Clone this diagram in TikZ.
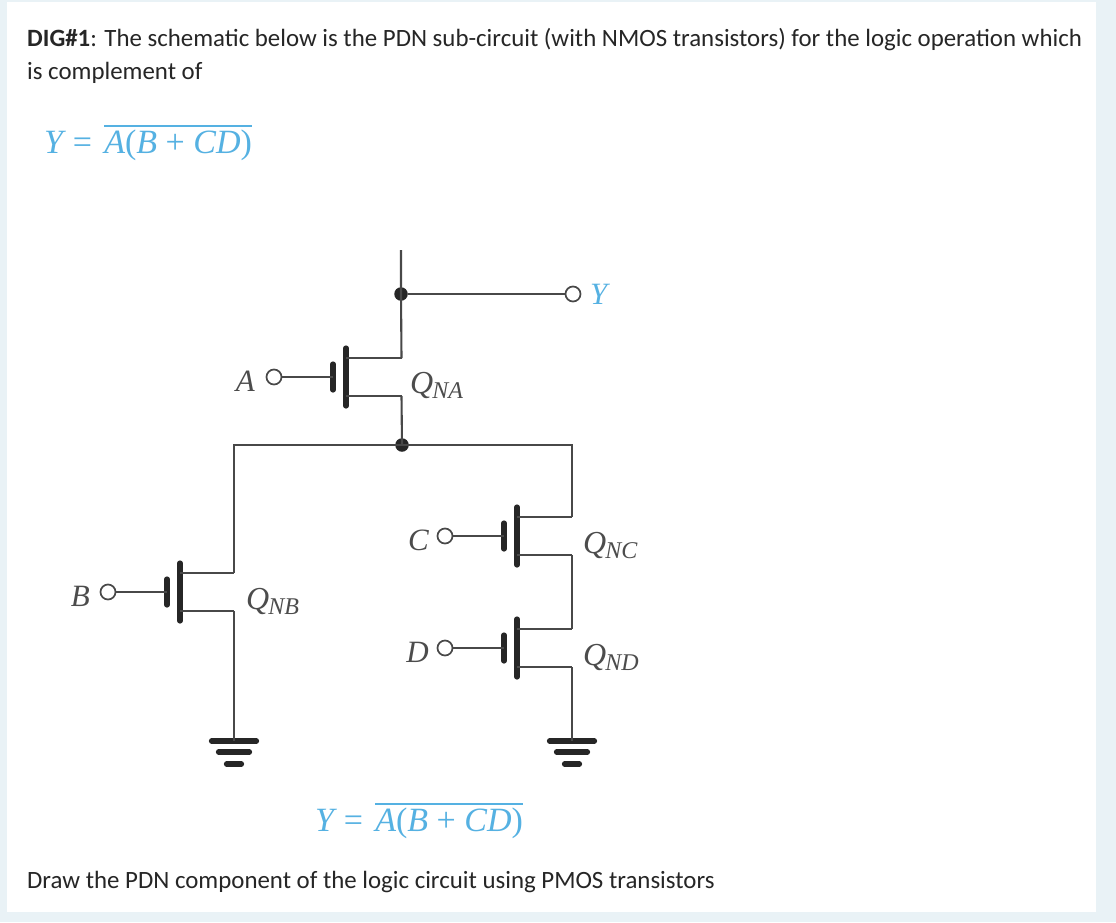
\documentclass[tikz,border=0pt]{standalone}
\usepackage{fontspec}
\setmainfont{Carlito}
\newfontfamily\tms{Liberation Serif}
\definecolor{pagebg}{HTML}{E9F2F6}
\definecolor{ink}{HTML}{262626}
\definecolor{wire}{HTML}{484848}
\definecolor{skyb}{HTML}{55B1E2}
\newcommand\ovl[1]{\vbox{\hrule height 1.5pt \kern 2.6pt \hbox{#1}}}
\newcommand\eqn{\fontsize{34}{36}\selectfont\tms\itshape Y\/\kern.2em\upshape=\kern.36em\itshape\ovl{A\upshape(\itshape B\upshape\ +\ \itshape CD\upshape)}}
\newcommand\qlab[2]{\fontsize{32}{34}\selectfont\tms\itshape Q\kern-1pt\raisebox{-5pt}{\fontsize{24}{25}\selectfont #2}}
\tikzset{
  x=1pt,y=-1pt,
  conn/.style={draw=wire,line width=2.1pt},
  gatebar/.style={draw=black!85,line width=5.2pt,line cap=round},
  gndbar/.style={draw=black!85,line width=5.2pt,line cap=round},
  term/.style={circle,draw=wire,fill=white,line width=1.7pt,minimum size=15pt,inner sep=0pt},
  junct/.style={circle,fill=black!85,minimum size=13.5pt,inner sep=0pt},
  ltr/.style={font=\fontsize{31}{34}\selectfont\tms\itshape,text=black!70,inner sep=0pt},
  qname/.style={text=black!70,inner sep=0pt,anchor=base west},
  body/.style={font=\fontsize{24.87}{28}\selectfont,inner sep=0pt,anchor=base west,text=ink},
  eqnstyle/.style={inner sep=0pt,anchor=base west,text=skyb}
}
% #1 name, #2 channel x, #3 gate y, #4 wire x, #5 terminal x
\newcommand\fet[5]{%
  \coordinate (#1c) at (#2,#3);
  \node[term] (#1t) at (#5,#3) {};
  \draw[gatebar] (#2-13,#3-13) -- (#2-13,#3+13);
  \draw[gatebar] (#2,#3-29) -- (#2,#3+29);
  \draw[conn] (#1t) -- (#2-13,#3);
  \coordinate (#1d) at (#4,#3-19);
  \coordinate (#1s) at (#4,#3+19);
  \draw[conn] (#2,#3-19) -- (#1d);
  \draw[conn] (#2,#3+19) -- (#1s);
}
\newcommand\gnd[3]{%
  \coordinate (#1) at (#2,#3);
  \draw[gndbar] (#2-22.5,#3) -- (#2+22.5,#3);
  \draw[gndbar] (#2-15.5,#3+11) -- (#2+15.5,#3+11);
  \draw[gndbar] (#2-7.5,#3+23) -- (#2+7.5,#3+23);
}
\begin{document}
\begin{tikzpicture}
\useasboundingbox (0,0) rectangle (1116,922);
\fill[pagebg] (0,0) rectangle (1116,922);
\fill[white] (7,2) rectangle (1096,912);
\node[body] (t1) at (27,46) {\textbf{DIG\#1}: The schematic below is the PDN sub-circuit (with NMOS transistors) for the logic operation which};
\node[body] (t2) at (27,79) {is complement of};
\node[body] (t3) at (27,888) {Draw the PDN component of the logic circuit using PMOS transistors};
\node[eqnstyle] (e1) at (44,153) {\eqn};
\node[eqnstyle] (e2) at (315,831) {\eqn};

\fet{a}{346}{377}{401.5}{274}
\fet{b}{180}{592}{234}{108}
\fet{c}{517}{536}{572}{445}
\fet{d}{517}{648}{572}{445}
\coordinate (top) at (401,250);
\node[junct] (j1) at (401,294) {};
\node[junct] (j2) at (402,445) {};
\node[term] (yt) at (573,294) {};
\coordinate (cl) at (234,445);
\coordinate (cr) at (572,445);
\gnd{g1}{234}{741}
\gnd{g2}{572}{741}
\draw[conn] (top) -- (j1.center) -- (ad);
\draw[conn] (j1) -- (yt);
\draw[conn] (as) -- (j2.center);
\draw[conn,line join=miter] (bd) -- (cl) -- (j2.center) -- (cr) -- (cd);
\draw[conn] (cs) -- (dd);
\draw[conn] (bs) -- (g1);
\draw[conn] (ds) -- (g2);

\node[ltr,text=skyb,anchor=base west] (ly) at (590,304) {Y};
\node[ltr,anchor=base east] (la) at (255,391) {A};
\node[ltr,anchor=base east] (lb) at (90,606) {B};
\node[ltr,anchor=base east] (lc) at (429,550) {C};
\node[ltr,anchor=base east] (ld) at (429,662) {D};
\node[qname] (qa) at (410,393) {\qlab{Q}{NA}};
\node[qname] (qb) at (246,609) {\qlab{Q}{NB}};
\node[qname] (qc) at (583,553) {\qlab{Q}{NC}};
\node[qname] (qd) at (583,665) {\qlab{Q}{ND}};
\end{tikzpicture}
\end{document}
